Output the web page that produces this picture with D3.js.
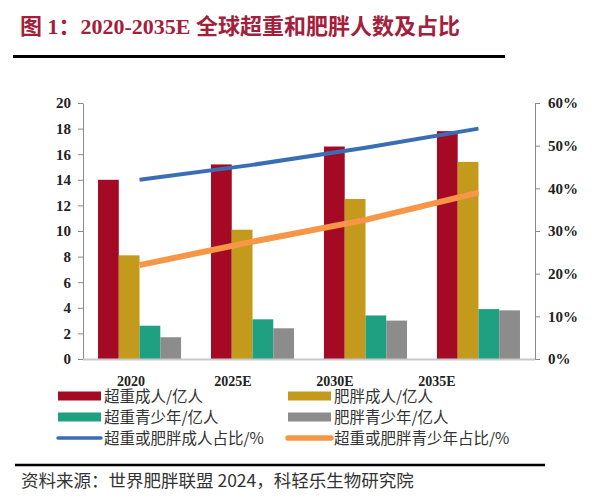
<!DOCTYPE html>
<html>
<head>
<meta charset="utf-8">
<script src="https://cdn.jsdelivr.net/npm/d3@7"></script>
<style>
  body { margin: 0; background: #fff; }
  svg { display: block; }
</style>
</head>
<body>
<svg id="chart" width="615" height="500"></svg>
<script>
// 数据
const years = ["2020", "2025E", "2030E", "2035E"]
const overweightAdults = [14.0, 15.2, 16.6, 17.8]   // 超重成人/亿人
const obeseAdults = [8.1, 10.1, 12.5, 15.4]         // 肥胖成人/亿人
const overweightYouth = [2.6, 3.1, 3.4, 3.9]        // 超重青少年/亿人
const obeseYouth = [1.7, 2.4, 3.0, 3.8]             // 肥胖青少年/亿人
const adultShare = [42, 45.5, 49.5, 54]             // 超重或肥胖成人占比/%
const youthShare = [22, 27.5, 32.6, 39]             // 超重或肥胖青少年占比/%
const leftTicks = [0, 2, 4, 6, 8, 10, 12, 14, 16, 18, 20]
const rightTicks = [0, 10, 20, 30, 40, 50, 60]

const barSeries = [
	{ name: "超重成人/亿人", values: overweightAdults, color: "#a50a25" },
	{ name: "肥胖成人/亿人", values: obeseAdults, color: "#c49a1c" },
	{ name: "超重青少年/亿人", values: overweightYouth, color: "#1fa080" },
	{ name: "肥胖青少年/亿人", values: obeseYouth, color: "#8c8c8c" }
]
const lineSeries = [
	{ name: "超重或肥胖成人占比/%", values: adultShare, color: "#3a6eb4", width: 4 },
	{ name: "超重或肥胖青少年占比/%", values: youthShare, color: "#f79646", width: 6 }
]

const svg = d3.select("#chart")
const serif = "'Liberation Serif', 'Times New Roman', serif"
const cjk = "'Noto Sans CJK SC', sans-serif"

// 标题
svg.append("text")
	.attr("x", 20).attr("y", 34)
	.attr("fill", "#a3203b")
	.attr("font-size", 22).attr("font-weight", "bold")
	.attr("font-family", serif + ", 'Noto Sans CJK SC'")
	.text("图 1：2020-2035E 全球超重和肥胖人数及占比")
svg.append("line")
	.attr("x1", 13).attr("x2", 505).attr("y1", 56.5).attr("y2", 56.5)
	.attr("stroke", "#000").attr("stroke-width", 3)

// 比例尺
const plotL = 83, plotR = 535, plotT = 103, plotB = 359
const x = d3.scaleBand().domain(years).range([plotL, plotR]).paddingInner(0.265).paddingOuter(0.133)
const xInner = d3.scaleBand().domain(d3.range(barSeries.length)).range([0, x.bandwidth()])
const xLabel = d3.scaleBand().domain(years).range([80, 488])
const y = d3.scaleLinear().domain([0, 20]).range([plotB, plotT])
const y2 = d3.scaleLinear().domain([0, 60]).range([plotB, plotT])

// 柱
const groups = svg.append("g").selectAll("g")
	.data(years)
	.join("g")
	.attr("transform", d => `translate(${x(d)},0)`)
groups.selectAll("rect")
	.data((d, i) => barSeries.map((s, j) => ({ j, v: s.values[i], color: s.color })))
	.join("rect")
	.attr("x", d => xInner(d.j))
	.attr("width", xInner.bandwidth())
	.attr("y", d => y(d.v))
	.attr("height", d => y(0) - y(d.v))
	.attr("fill", d => d.color)

// 坐标轴
const axisColor = "#8a8a8a"
const gl = svg.append("g")
	.attr("transform", `translate(${plotL},0)`)
	.call(d3.axisLeft(y).tickValues(leftTicks).tickSize(5).tickPadding(7).tickSizeOuter(0))
const gr = svg.append("g")
	.attr("transform", `translate(${plotR},0)`)
	.call(d3.axisRight(y2).tickValues(rightTicks).tickSize(5).tickPadding(8).tickSizeOuter(0).tickFormat(d => d + "%"))
;[gl, gr].forEach(g => {
	g.selectAll("path, line").attr("stroke", axisColor)
	g.selectAll("text")
		.attr("font-family", serif).attr("font-size", 15)
		.attr("font-weight", "bold").attr("fill", "#222")
})
svg.append("line")
	.attr("x1", plotL).attr("x2", plotR).attr("y1", plotB + 0.5).attr("y2", plotB + 0.5)
	.attr("stroke", "#c8c8c8").attr("stroke-width", 2)

const gx = svg.append("g")
	.attr("transform", `translate(0,${plotB})`)
	.call(d3.axisBottom(xLabel).tickSize(0).tickPadding(17))
gx.select(".domain").remove()
gx.selectAll("text")
	.attr("font-family", serif).attr("font-size", 14)
	.attr("font-weight", "bold").attr("fill", "#222")

// 折线
const line = d3.line()
	.x((d, i) => x(years[i]) + x.bandwidth() / 2)
	.y(d => y2(d))
lineSeries.forEach(s => {
	svg.append("path")
		.datum(s.values)
		.attr("d", line)
		.attr("fill", "none")
		.attr("stroke", s.color)
		.attr("stroke-width", s.width)
})

// 图例
const legendItems = [
	{ ...barSeries[0], type: "rect" }, { ...barSeries[1], type: "rect" },
	{ ...barSeries[2], type: "rect" }, { ...barSeries[3], type: "rect" },
	{ ...lineSeries[0], type: "line" }, { ...lineSeries[1], type: "line" }
]
const legend = svg.append("g")
	.selectAll("g")
	.data(legendItems)
	.join("g")
	.attr("transform", (d, i) => `translate(${i % 2 ? 288 : 58},${396 + Math.floor(i / 2) * 21})`)
legend.filter(d => d.type === "rect").append("rect")
	.attr("x", 0).attr("y", -4.5).attr("width", 43).attr("height", 9)
	.attr("fill", d => d.color)
legend.filter(d => d.type === "line").append("line")
	.attr("x1", 0).attr("x2", 43)
	.attr("stroke", d => d.color).attr("stroke-width", d => d.width - 0.5)
	.attr("stroke-linecap", "round")
legend.append("text")
	.attr("x", 46).attr("dy", "0.36em")
	.attr("font-family", cjk).attr("font-size", 15.5).attr("fill", "#333")
	.text(d => d.name)

// 底部来源
svg.append("line")
	.attr("x1", 15).attr("x2", 545).attr("y1", 465).attr("y2", 465)
	.attr("stroke", "#000").attr("stroke-width", 2.5)
svg.append("text")
	.attr("x", 21).attr("y", 487)
	.attr("font-family", cjk).attr("font-size", 17.5).attr("fill", "#333")
	.text("资料来源：世界肥胖联盟 2024，科轻乐生物研究院")
</script>
</body>
</html>
